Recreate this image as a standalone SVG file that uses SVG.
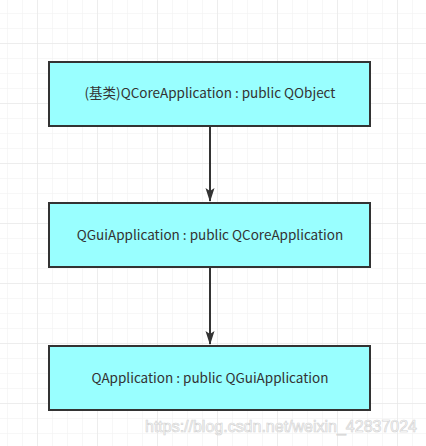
<svg xmlns="http://www.w3.org/2000/svg" width="426" height="446" viewBox="0 0 426 446">
<defs>
<pattern id="minor" x="7" y="13" width="15" height="15" patternUnits="userSpaceOnUse">
<path d="M0 0V15M0 0H15" fill="none" stroke="#efefef" stroke-width="1"/>
</pattern>
<pattern id="major" x="37" y="43" width="60" height="60" patternUnits="userSpaceOnUse">
<path d="M0 0V60M0 0H60" fill="none" stroke="#e4e4e4" stroke-width="1"/>
</pattern>
<marker id="arrow" viewBox="0 0 14 10" refX="13" refY="5" markerWidth="14" markerHeight="10" markerUnits="userSpaceOnUse" orient="auto">
<path d="M0 0.5L14 5L0 9.5L3 5Z" fill="#333"/>
</marker>
<style>
.box{fill:#99ffff;stroke:#333;stroke-width:2}
.lbl{font-family:"Noto Sans CJK SC","Noto Sans",sans-serif;font-size:13.5px;fill:#333;text-anchor:middle}
.edge{stroke:#333;stroke-width:2;fill:none}
</style>
</defs>
<rect width="426" height="446" fill="#fff"/>
<rect width="426" height="446" fill="url(#minor)"/>
<rect width="426" height="446" fill="url(#major)"/>
<g id="connectors">
<path class="edge" d="M210 127V201" marker-end="url(#arrow)"/>
<path class="edge" d="M210 268V344" marker-end="url(#arrow)"/>
</g>
<g id="node-qcoreapplication">
<rect class="box" x="49" y="62" width="321" height="64"/>
<text class="lbl" x="210" y="98">(基类)QCoreApplication : public QObject</text>
</g>
<g id="node-qguiapplication">
<rect class="box" x="49" y="203" width="321" height="64"/>
<text class="lbl" x="210" y="240">QGuiApplication : public QCoreApplication</text>
</g>
<g id="node-qapplication">
<rect class="box" x="49" y="346" width="321" height="64"/>
<text class="lbl" x="210" y="383">QApplication : public QGuiApplication</text>
</g>
<text x="145" y="432" font-family="Liberation Sans, Arial, sans-serif" font-size="16" fill="#fff" stroke="#d4d4d4" stroke-width="0.7" textLength="272">https://blog.csdn.net/weixin_42837024</text>
</svg>
